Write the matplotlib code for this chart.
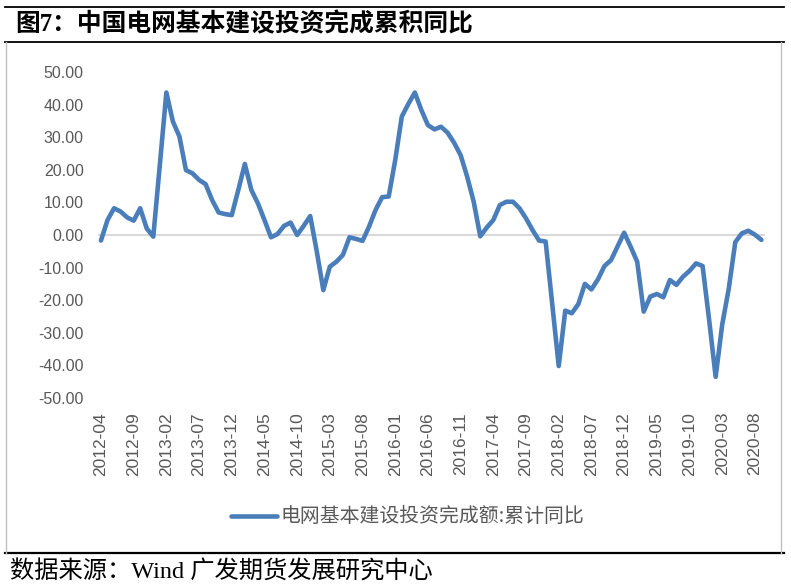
import matplotlib
matplotlib.use("Agg")
import matplotlib.pyplot as plt
from matplotlib.lines import Line2D
import pandas as pd

# ---- data ----
months = pd.period_range("2012-04", "2020-09", freq="M").strftime("%Y-%m").tolist()
growth = [
    -1.7, 4.6, 8.2, 7.2, 5.4, 4.4, 8.2, 2.0, -0.5, 21.5,
    43.7, 34.8, 30.2, 19.9, 18.9, 16.9, 15.6, 10.7, 6.9, 6.4,
    6.1, 13.8, 21.8, 13.8, 9.7, 4.6, -0.7, 0.3, 2.8, 3.8,
    0.0, 2.8, 5.8, -5.0, -16.9, -9.7, -8.2, -6.1, -0.7, -1.2,
    -1.8, 2.6, 7.7, 11.6, 11.8, 23.0, 36.3, 40.2, 43.7, 38.3,
    33.7, 32.4, 33.2, 31.4, 28.3, 24.5, 17.9, 10.2, -0.4, 2.3,
    4.6, 9.2, 10.2, 10.2, 8.2, 5.1, 1.5, -1.7, -2.0, -21.0,
    -40.2, -23.2, -24.0, -21.2, -15.0, -16.7, -13.6, -9.5, -7.7, -3.5,
    0.7, -3.6, -8.2, -23.5, -18.9, -18.1, -19.1, -13.8, -15.3, -12.8,
    -11.0, -8.7, -9.5, -26.0, -43.5, -27.5, -16.5, -2.2, 0.5, 1.3,
    0.1, -1.5,
]
y_ticks = [50, 40, 30, 20, 10, 0, -10, -20, -30, -40, -50]
series_name = "电网基本建设投资完成额:累计同比"
title = "图7：中国电网基本建设投资完成累积同比"
source = "数据来源：Wind 广发期货发展研究中心"

W, H = 791, 586
fig = plt.figure(figsize=(W / 100, H / 100), dpi=100)

ax = fig.add_axes([97.7 / W, 1 - 398 / H, 667 / W, 326 / H])
x = list(range(len(months)))
ax.axhline(0, color="#d9d9d9", lw=1.5, zorder=1)
ax.plot(x, growth, color="#4a7ebb", lw=3.3, solid_joinstyle="round",
        solid_capstyle="round", label=series_name, zorder=3)

ax.set_xlim(-0.5, len(months) - 0.5)
ax.set_ylim(-50, 50)
ax.set_yticks(y_ticks)
ax.set_yticklabels([f"{v:.2f}" for v in y_ticks], family="Liberation Sans",
                   fontsize=11.5)
ax.set_xticks(x[::5])
ax.set_xticklabels(months[::5], rotation=90, family="Liberation Sans",
                   fontsize=12.5)
for s in ax.spines.values():
    s.set_visible(False)
ax.tick_params(length=0, colors="#595959")
ax.tick_params(axis="x", pad=10)
ax.tick_params(axis="y", pad=10)

leg = fig.legend(loc="center", bbox_to_anchor=(408 / W, 1 - 517 / H),
                 frameon=False, handlelength=2.3, handletextpad=0.2,
                 prop={"family": ["Noto Sans CJK SC"], "size": 14.3})
for t in leg.get_texts():
    t.set_color("#595959")

# ---- frame and texts ----
def hline(y, x0, x1, color="black", lw=1.3):
    fig.add_artist(Line2D([x0 / W, x1 / W], [1 - y / H, 1 - y / H],
                          color=color, lw=lw, transform=fig.transFigure))

def vline(xp, y0, y1, color="#bfbfbf", lw=1.0):
    fig.add_artist(Line2D([xp / W, xp / W], [1 - y0 / H, 1 - y1 / H],
                          color=color, lw=lw, transform=fig.transFigure))

hline(7, 5, 784)
hline(42, 5, 784)
hline(553, 5, 784, lw=1.6)
vline(6, 42, 553)
vline(781, 42, 553)

fig.text(15 / W, 1 - 24 / H, title, fontsize=17.8, weight="bold", va="center",
         family=["Liberation Serif", "Noto Sans CJK SC"])
fig.text(10 / W, 1 - 572 / H, source, fontsize=17.5, va="center",
         family=["Liberation Serif", "Noto Sans CJK SC"])

fig.savefig("out.png", dpi=100)
